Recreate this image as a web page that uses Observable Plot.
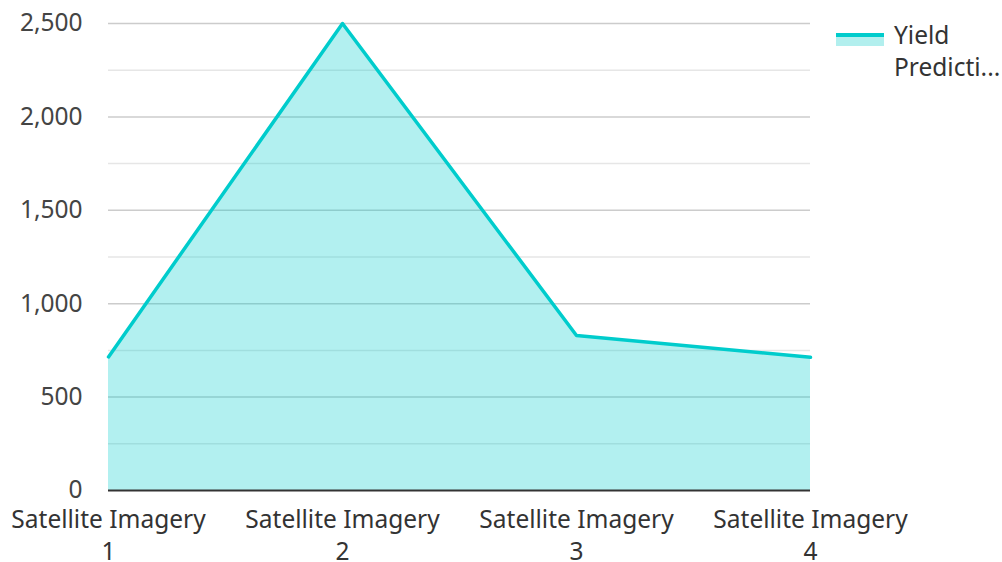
<!DOCTYPE html>
<html><head><meta charset="utf-8">
<script src="https://cdn.jsdelivr.net/npm/d3@7"></script>
<script src="https://cdn.jsdelivr.net/npm/@observablehq/plot@0.6"></script>
<style>
html,body{margin:0;padding:0;background:#fff;}
#wrap{position:relative;width:1002px;height:562px;font-family:"Noto Sans",sans-serif;}
#legend{position:absolute;left:836px;top:19px;display:flex;align-items:flex-start;font-size:24.5px;color:#333;line-height:32px;}
#legend .sw{width:48px;height:9px;background:#b2efee;border-top:4px solid #00cccc;margin-top:14px;margin-right:10px;}
</style></head>
<body><div id="wrap"><div id="legend"><div class="sw"></div><div>Yield<br>Predicti...</div></div></div>
<script>
const categories = ["Satellite Imagery 1","Satellite Imagery 2","Satellite Imagery 3","Satellite Imagery 4"];
const values = [715, 2500, 830, 713];
const majorTicks = [0, 500, 1000, 1500, 2000, 2500];
const minorTicks = [250, 750, 1250, 1750, 2250];
const seriesName = "Yield Prediction";

const data = categories.map((c, i) => ({cat: c, value: values[i]}));

const chart = Plot.plot({
  width: 1002,
  height: 562,
  marginLeft: 108,
  marginRight: 192,
  marginTop: 23,
  marginBottom: 72,
  style: {fontFamily: "Noto Sans, sans-serif", fontSize: "24.5px", color: "#444", background: "#fff"},
  x: {type: "point", domain: categories, padding: 0},
  y: {domain: [0, 2500]},
  marks: [
    Plot.ruleY(minorTicks, {stroke: "#e6e6e6", strokeWidth: 1.5}),
    Plot.ruleY(majorTicks.filter(d => d > 0), {stroke: "#cccccc", strokeWidth: 1.5}),
    Plot.areaY(data, {x: "cat", y: "value", fill: "#00cccc", fillOpacity: 0.3, curve: "linear"}),
    Plot.lineY(data, {x: "cat", y: "value", stroke: "#00cccc", strokeWidth: 3.5, curve: "linear"}),
    Plot.ruleY([0], {stroke: "#333", strokeWidth: 2}),
    Plot.axisY(majorTicks, {tickSize: 0, tickPadding: 26, tickFormat: d => d3.format(",")(d), fill: "#444", fontSize: 24.5, label: null}),
    Plot.axisX(categories, {tickSize: 0, tickPadding: 14, tickFormat: d => d.replace(/ (\d+)$/, "\n$1"), lineHeight: 1.33, fill: "#333", fontSize: 24.5, label: null})
  ]
});
document.getElementById("wrap").prepend(chart);
</script></body></html>
